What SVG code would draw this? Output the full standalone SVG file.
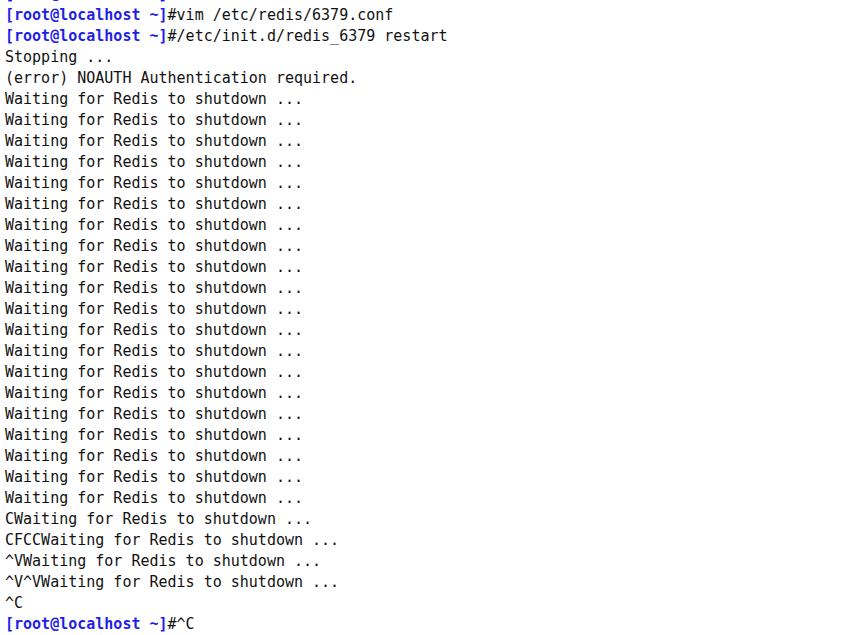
<svg xmlns="http://www.w3.org/2000/svg" width="849" height="635" viewBox="0 0 849 635">
<style>
text{font-family:"DejaVu Sans Mono","Liberation Mono",monospace;font-size:15px;fill:#111;white-space:pre}
.p{fill:#1f1fe8;font-weight:bold}
</style>
<rect width="849" height="635" fill="#fff"/>
<g id="terminal" transform="translate(0,1)">
<text x="5" y="-2"><tspan class="p">[root@localhost ~]</tspan>#</text>
<text x="5" y="19"><tspan class="p">[root@localhost ~]</tspan>#vim /etc/redis/6379.conf</text>
<text x="5" y="40"><tspan class="p">[root@localhost ~]</tspan>#/etc/init.d/redis_6379 restart</text>
<text x="5" y="61">Stopping ...</text>
<text x="5" y="82">(error) NOAUTH Authentication required.</text>
<text x="5" y="103">Waiting for Redis to shutdown ...</text>
<text x="5" y="124">Waiting for Redis to shutdown ...</text>
<text x="5" y="145">Waiting for Redis to shutdown ...</text>
<text x="5" y="166">Waiting for Redis to shutdown ...</text>
<text x="5" y="187">Waiting for Redis to shutdown ...</text>
<text x="5" y="208">Waiting for Redis to shutdown ...</text>
<text x="5" y="229">Waiting for Redis to shutdown ...</text>
<text x="5" y="250">Waiting for Redis to shutdown ...</text>
<text x="5" y="271">Waiting for Redis to shutdown ...</text>
<text x="5" y="292">Waiting for Redis to shutdown ...</text>
<text x="5" y="313">Waiting for Redis to shutdown ...</text>
<text x="5" y="334">Waiting for Redis to shutdown ...</text>
<text x="5" y="355">Waiting for Redis to shutdown ...</text>
<text x="5" y="376">Waiting for Redis to shutdown ...</text>
<text x="5" y="397">Waiting for Redis to shutdown ...</text>
<text x="5" y="418">Waiting for Redis to shutdown ...</text>
<text x="5" y="439">Waiting for Redis to shutdown ...</text>
<text x="5" y="460">Waiting for Redis to shutdown ...</text>
<text x="5" y="481">Waiting for Redis to shutdown ...</text>
<text x="5" y="502">Waiting for Redis to shutdown ...</text>
<text x="5" y="523">CWaiting for Redis to shutdown ...</text>
<text x="5" y="544">CFCCWaiting for Redis to shutdown ...</text>
<text x="5" y="565">^VWaiting for Redis to shutdown ...</text>
<text x="5" y="586">^V^VWaiting for Redis to shutdown ...</text>
<text x="5" y="607">^C</text>
<text x="5" y="628"><tspan class="p">[root@localhost ~]</tspan>#^C</text>
</g>
</svg>
